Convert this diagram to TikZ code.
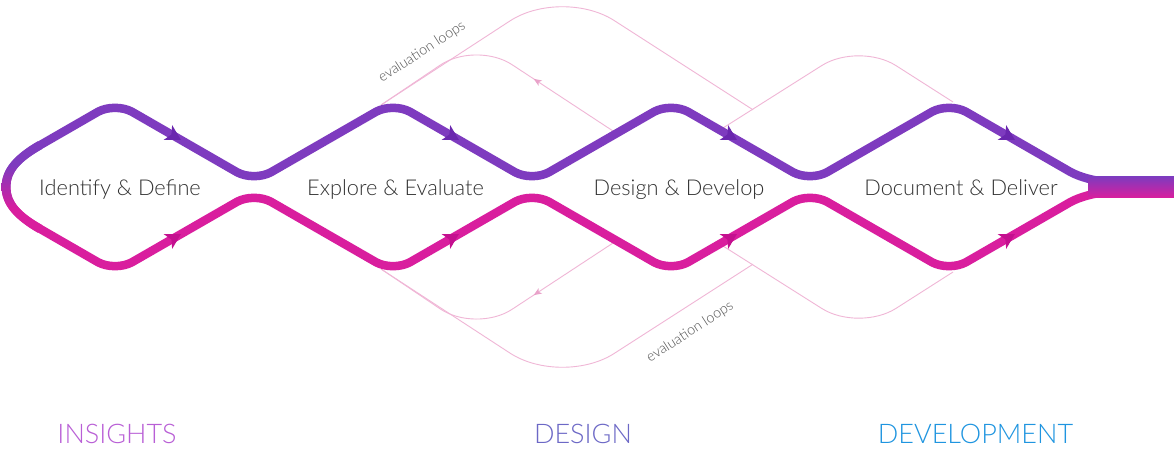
\documentclass[tikz,border=0pt]{standalone}
\usepackage{fontspec}
\newfontfamily\lite{Lato Light}
\definecolor{purp}{HTML}{7E3BBF}
\definecolor{purpd}{HTML}{6A27AE}
\definecolor{mag}{HTML}{D91E9E}
\definecolor{magd}{HTML}{C4108F}
\definecolor{loopc}{HTML}{F0B6D6}
\definecolor{loopd}{HTML}{E9A2C9}
\definecolor{txt}{HTML}{333333}
\definecolor{cins}{HTML}{B95FD6}
\definecolor{cdes}{HTML}{6C68C6}
\definecolor{cdev}{HTML}{1F95E0}
\pgfdeclareverticalshading{leftblend}{100bp}{color(0bp)=(mag); color(38bp)=(mag); color(62bp)=(purp); color(100bp)=(purp)}
\begin{document}
\begin{tikzpicture}[x=1pt,y=-1pt,
  thickpath/.style={line width=8.5pt, line join=round},
  toppath/.style={thickpath, draw=purp},
  botpath/.style={thickpath, draw=mag},
  loopline/.style={draw=loopc, line width=0.9pt},
  lbl/.style={font=\lite\fontsize{21.8}{26}\selectfont, text=txt, anchor=base, inner sep=0pt},
  phase/.style={font=\lite\fontsize{27}{32}\selectfont, anchor=base, inner sep=0pt},
  evl/.style={font=\lite\fontsize{14.3}{17}\selectfont, text=txt!85, inner sep=0pt, rotate=33},
  barb/.pic={\fill (8,0) -- (-7,-8.5) -- (-3,0) -- (-7,8.5) -- cycle;},
  minibarb/.pic={\fill (4,0) -- (-4,-3.2) -- (-2,0) -- (-4,3.2) -- cycle;}
]
\useasboundingbox (0,0) rectangle (1174,460);
\fill[white] (0,0) rectangle (1174,460);

% evaluation loops (top)
\coordinate (exT) at (381,105);
\coordinate (deT) at (613,131);
\coordinate (ddT) at (723,128);
\coordinate (joinT) at (753,109.8);
\coordinate (doT) at (953,102);
\draw[loopline] (exT) [rounded corners=62pt] -- (562,-13) -- (joinT);
\draw[loopline] (ddT) [rounded corners=44pt] -- (859,42) -- (doT);
\draw[loopline] (deT) [rounded corners=43pt] -- (476,41) -- (exT);
\pic[color=loopd, rotate=146.7] at (537,81) {minibarb};

% evaluation loops (bottom)
\coordinate (exB) at (381,269);
\coordinate (deB) at (613,243);
\coordinate (ddB) at (723,246);
\coordinate (joinB) at (753,264.2);
\coordinate (doB) at (953,272);
\draw[loopline] (exB) [rounded corners=62pt] -- (562,387) -- (joinB);
\draw[loopline] (ddB) [rounded corners=44pt] -- (859,332) -- (doB);
\draw[loopline] (deB) [rounded corners=43pt] -- (476,333) -- (exB);
\pic[color=loopd, rotate=-146.7] at (537,293) {minibarb};

% main paths
\draw[toppath] (6,187) .. controls (6,170) and (18,157.9) .. (40,145.2) [rounded corners=20pt] -- (115,102) -- (254,182) -- (393,102) -- (532,182) -- (671,102) -- (810,182) -- (949,102) -- (1087,181.5) -- (1120,181.5);
\draw[botpath] (6,187) .. controls (6,204) and (18,216.1) .. (40,228.8) [rounded corners=20pt] -- (115,272) -- (254,192) -- (393,272) -- (532,192) -- (671,272) -- (810,192) -- (949,272) -- (1087,192.5) -- (1120,192.5);

% blended left end and right bar
\shade[shading=leftblend] (37.75,141.3) .. controls (15.6,154) and (1.5,169) .. (1.5,187) .. controls (1.5,205) and (15.6,220) .. (37.75,232.7) -- (42.25,225.1) .. controls (20.4,213) and (10.5,202) .. (10.5,187) .. controls (10.5,172) and (20.4,161) .. (42.25,148.9) -- cycle;
\shade[top color=purp, bottom color=mag] (1088,176.5) rectangle (1174,197.5);

% arrowheads
\foreach \x in {174,452,730,1008} {
  \pic[color=purpd, rotate=-29.9] at (\x,136) {barb};
  \pic[color=magd, rotate=29.9] at (\x,238) {barb};
}

% labels
\node[lbl] (n1) at (120,195) {Identify \& Define};
\node[lbl] (n2) at (395.5,195) {Explore \& Evaluate};
\node[lbl] (n3) at (679,195) {Design \& Develop};
\node[lbl] (n4) at (961,195) {Document \& Deliver};
\node[evl] (e1) at (422,52) {evaluation loops};
\node[evl] (e2) at (690,332) {evaluation loops};
\node[phase, text=cins] (p1) at (117,443) {INSIGHTS};
\node[phase, text=cdes] (p2) at (583,443) {DESIGN};
\node[phase, text=cdev] (p3) at (975.5,443) {DEVELOPMENT};
\end{tikzpicture}
\end{document}
